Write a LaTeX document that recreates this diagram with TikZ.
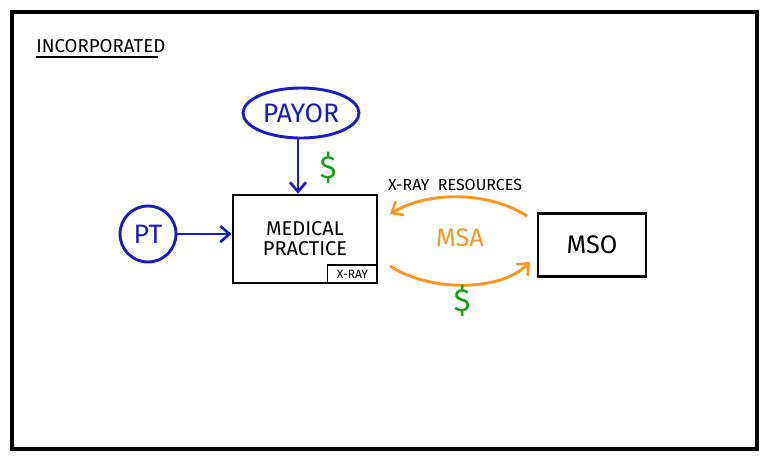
\documentclass[tikz,border=0pt]{standalone}
\usepackage{fontspec}
\setmainfont{Fira Sans}
\usetikzlibrary{arrows.meta,shapes.geometric}
\definecolor{pblue}{RGB}{28,28,196}
\definecolor{porange}{RGB}{247,152,32}
\definecolor{pgreen}{RGB}{24,160,24}
\tikzset{
  fs/.style={font=\fontsize{#1}{#1}\selectfont},
  bluel/.style={draw=pblue,line width=2.2pt},
  blackbox/.style={draw=black,line width=2pt},
  orarrow/.style={draw=porange,line width=2.2pt,-{Straight Barb[length=7pt,width=12pt,line width=2pt]}},
  blarrow/.style={draw=pblue,line width=2pt,-{Straight Barb[length=7pt,width=12pt,line width=2pt]}},
  dollar/.style={text=pgreen,fs=24pt}
}
\begin{document}
\begin{tikzpicture}[x=0.75pt,y=-0.75pt]
\useasboundingbox (0,0) rectangle (768,461);
\draw[line width=2.4pt] (12,12) rectangle (757,449);
% title
\node[fs=14pt,anchor=west,inner sep=0pt] (title) at (36,46) {INCORPORATED};
\draw[line width=1.3pt] (36,57) -- (158,57);
% payor
\node[bluel,ellipse,minimum width=87pt,minimum height=37.5pt,inner sep=0pt,text=pblue,fs=20pt] (payor) at (301,113) {PAYOR};
% medical practice
\node[blackbox,minimum width=108pt,minimum height=66pt,inner sep=0pt,align=center,fs=15pt] (mp) at (305,239) {MEDICAL\\PRACTICE};
\node[draw,line width=1.3pt,minimum width=37.5pt,minimum height=14pt,inner sep=0pt,fs=9pt,anchor=south east] (xray) at (mp.south east) {X-RAY};
% PT
\node[bluel,circle,minimum size=42pt,inner sep=0pt,text=pblue,fs=20pt] (pt) at (148,234) {PT};
\draw[blarrow] (pt.east) -- (mp.west |- pt.east);
% payor arrow
\draw[blarrow] (payor.south -| 298,0) -- (mp.north -| 298,0);
\node[dollar] (d1) at (328,168) {\$};
% MSO
\node[blackbox,minimum width=81pt,minimum height=47pt,inner sep=0pt,fs=19pt] (mso) at (592,245) {MSO};
% orange arcs
\coordinate (ta) at (527,216);
\coordinate (tb) at (390,214);
\coordinate (ba) at (390,266);
\coordinate (bb) at (530,262);
\draw[orarrow] (ta) .. controls (490,192) and (430,190) .. (tb);
\draw[orarrow] (ba) .. controls (430,292) and (500,292) .. (bb);
\node[text=porange,fs=19pt] (msa) at (460,238) {MSA};
\node[fs=12pt] (res) at (455,185) {X-RAY\ \ RESOURCES};
\node[dollar] (d2) at (462,301) {\$};
\end{tikzpicture}
\end{document}
